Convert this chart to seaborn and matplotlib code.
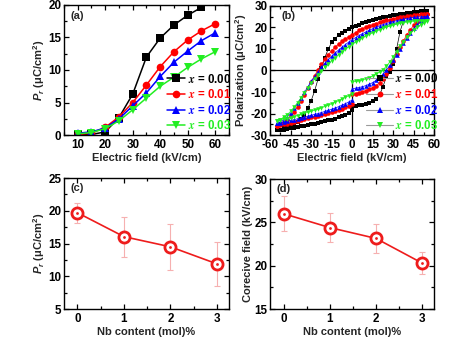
import numpy as np
import pandas as pd
import matplotlib
matplotlib.use("Agg")
import matplotlib.pyplot as plt
import seaborn as sns
from matplotlib.ticker import MultipleLocator

sns.set_theme(style="ticks")
plt.rcParams['font.family'] = ['Liberation Sans', 'DejaVu Sans']
plt.rcParams['font.weight'] = 'bold'
plt.rcParams['axes.labelweight'] = 'bold'
plt.rcParams['axes.unicode_minus'] = False
plt.rcParams['mathtext.fontset'] = 'custom'
plt.rcParams['mathtext.rm'] = 'Liberation Sans:bold'
plt.rcParams['mathtext.it'] = 'Liberation Sans:bold:italic'
plt.rcParams['mathtext.bf'] = 'Liberation Sans:bold'

# ---------------- data ----------------
compositions = ["0.00", "0.01", "0.02", "0.03"]
colors = ["#000000", "#ff0000", "#0000ff", "#22ee22"]
marker_list = ["s", "o", "^", "v"]

# (a) remanent polarization vs applied field
field_a = [10, 15, 20, 25, 30, 35, 40, 45, 50, 55, 60]
pr_000 = [0.1, 0.1, 0.5, 2.7, 6.3, 12.0, 14.9, 16.9, 18.4, 19.6, 20.9]
pr_001 = [0.1, 0.3, 1.2, 2.8, 5.0, 7.7, 10.5, 12.8, 14.6, 16.0, 17.1]
pr_002 = [0.3, 0.5, 1.1, 2.5, 4.5, 6.5, 9.0, 11.2, 12.9, 14.5, 15.7]
pr_003 = [0.2, 0.4, 1.0, 2.2, 3.9, 5.7, 7.5, 8.9, 10.4, 11.7, 12.8]

# (b) P-E loops: initial branch (0 -> 55), descending (55 -> -55), ascending (-55 -> 0)
e_init = [0, 2.5, 5, 7.5, 10, 12.5, 15, 17.5, 20, 22.5, 25, 27.5, 30, 32.5, 35,
          37.5, 40, 42.5, 45, 47.5, 50, 52.5, 55]
e_down = [55, 52.5, 50, 47.5, 45, 42.5, 40, 37.5, 35, 32.5, 30, 27.5, 25, 22.5,
          20, 17.5, 15, 12.5, 10, 7.5, 5, 2.5, 0, -2.5, -5, -7.5, -10, -12.5,
          -15, -17.5, -20, -22.5, -25, -27.5, -30, -32.5, -35, -37.5, -40,
          -42.5, -45, -47.5, -50, -52.5, -55]
e_back = [-55, -52.5, -50, -47.5, -45, -42.5, -40, -37.5, -35, -32.5, -30, -27.5,
          -25, -22.5, -20, -17.5, -15, -12.5, -10, -7.5, -5, -2.5, 0]

p_init_000 = [-16.8, -16.5, -16.2, -15.8, -15.4, -14.9, -14.3, -13.2, -11.5, -7.5,
              -3.0, -0.5, 3.0, 10.0, 18.0, 23.0, 25.2, 26.1, 26.7, 27.1, 27.4,
              27.6, 27.8]
p_down_000 = [27.8, 27.7, 27.5, 27.3, 27.1, 26.9, 26.7, 26.4, 26.2, 25.9, 25.6,
              25.3, 25.0, 24.7, 24.3, 23.9, 23.5, 23.0, 22.5, 21.9, 21.3, 20.7,
              20.0, 19.3, 18.5, 17.5, 16.3, 14.8, 13.0, 10.0, 6.0, 1.0, -4.0,
              -9.5, -14.0, -17.5, -20.5, -22.5, -23.8, -24.8, -25.6, -26.3,
              -26.9, -27.4, -27.8]
p_back_000 = [-27.8, -27.6, -27.4, -27.1, -26.8, -26.5, -26.2, -25.9, -25.6,
              -25.3, -25.0, -24.7, -24.4, -24.0, -23.6, -23.2, -22.8, -22.3,
              -21.8, -21.2, -20.5, -19.6, -18.5]

p_init_001 = [-11.0, -10.7, -10.3, -9.9, -9.4, -8.8, -8.0, -7.0, -5.6, -3.8, -1.5,
              1.2, 4.3, 7.6, 10.8, 13.8, 16.5, 18.9, 20.9, 22.6, 24.0, 25.2, 26.2]
p_down_001 = [26.2, 26.1, 26.0, 25.8, 25.6, 25.4, 25.2, 24.9, 24.6, 24.3, 24.0,
              23.6, 23.2, 22.8, 22.3, 21.8, 21.3, 20.7, 20.1, 19.4, 18.6, 17.6,
              16.5, 15.6, 14.6, 13.5, 12.2, 10.8, 9.2, 7.3, 5.2, 2.8, 0.3, -2.4,
              -5.3, -8.3, -11.3, -14.2, -16.9, -19.3, -21.3, -22.9, -24.1, -25.0,
              -25.6]
p_back_001 = [-25.6, -25.3, -25.0, -24.6, -24.2, -23.8, -23.4, -23.0, -22.6,
              -22.2, -21.8, -21.4, -21.0, -20.6, -20.2, -19.8, -19.3, -18.8,
              -18.3, -17.7, -17.1, -16.4, -15.6]

p_init_002 = [-8.5, -8.2, -7.9, -7.5, -7.0, -6.4, -5.6, -4.6, -3.3, -1.7, 0.2,
              2.4, 4.8, 7.4, 10.1, 12.8, 15.3, 17.6, 19.6, 21.4, 22.9, 24.1, 25.1]
p_down_002 = [25.1, 25.0, 24.9, 24.8, 24.6, 24.4, 24.1, 23.8, 23.5, 23.1, 22.7,
              22.3, 21.8, 21.3, 20.7, 20.1, 19.4, 18.7, 17.9, 17.1, 16.2, 15.3,
              14.3, 13.2, 12.0, 10.8, 9.5, 8.1, 6.6, 5.0, 3.3, 1.4, -0.6, -2.8,
              -5.1, -7.6, -10.2, -12.8, -15.3, -17.6, -19.7, -21.4, -22.8, -23.8,
              -24.5]
p_back_002 = [-24.5, -24.2, -23.9, -23.6, -23.2, -22.8, -22.4, -22.0, -21.6,
              -21.2, -20.8, -20.4, -20.0, -19.5, -19.0, -18.5, -18.0, -17.4,
              -16.8, -16.1, -15.4, -14.6, -13.7]

p_init_003 = [-5.4, -5.1, -4.8, -4.4, -3.9, -3.3, -2.5, -1.6, -0.8, 0.3, 2.0, 4.0,
              6.3, 8.8, 11.2, 13.4, 15.4, 17.2, 18.7, 20.0, 21.2, 22.2, 23.0]
p_down_003 = [23.0, 23.1, 23.1, 23.0, 22.9, 22.7, 22.5, 22.2, 21.9, 21.5, 21.1,
              20.6, 20.1, 19.5, 18.9, 18.2, 17.5, 16.7, 15.9, 15.0, 14.1, 13.1,
              12.1, 11.0, 9.8, 8.6, 7.3, 6.0, 4.6, 3.1, 1.5, -0.2, -2.0, -3.9,
              -5.9, -8.1, -10.4, -12.7, -14.9, -17.0, -18.9, -20.5, -21.8, -22.8,
              -23.5]
p_back_003 = [-23.5, -23.1, -22.7, -22.3, -21.9, -21.4, -20.9, -20.4, -19.9,
              -19.4, -18.9, -18.4, -17.9, -17.3, -16.7, -16.1, -15.4, -14.7,
              -14.0, -13.3, -12.5, -11.7, -10.8]

# (c), (d) vs Nb content
nb_content = [0, 1, 2, 3]
pr_mean = [19.7, 16.05, 14.5, 11.9]
pr_err = [1.55, 3.05, 3.55, 3.35]
ec_mean = [26.0, 24.4, 23.15, 20.3]
ec_err = [2.05, 1.7, 1.65, 1.3]

# ---------------- tables ----------------
legend_labels = [r"$x$ = " + c for c in compositions]
pr_series = [pr_000, pr_001, pr_002, pr_003]
df_a = pd.DataFrame({
    "E": np.tile(field_a, 4),
    "Pr": np.concatenate(pr_series),
    "comp": np.repeat(legend_labels, len(field_a)),
})

loops = [(p_init_000, p_down_000, p_back_000),
         (p_init_001, p_down_001, p_back_001),
         (p_init_002, p_down_002, p_back_002),
         (p_init_003, p_down_003, p_back_003)]
rows = []
for lab, (pi, pd_, pb) in zip(legend_labels, loops):
    e_all = list(e_init) + list(e_down) + list(e_back)
    p_all = list(pi) + list(pd_) + list(pb)
    for e, p in zip(e_all, p_all):
        rows.append((e, p, lab))
df_b = pd.DataFrame(rows, columns=["E", "P", "comp"])

df_c = pd.DataFrame({"Nb": nb_content, "Pr": pr_mean})
df_d = pd.DataFrame({"Nb": nb_content, "Ec": ec_mean})

palette = dict(zip(legend_labels, colors))
mk = dict(zip(legend_labels, marker_list))

# ---------------- figure ----------------
fig = plt.figure(figsize=(4.74, 3.43), dpi=100)
ax_a = fig.add_axes([0.135, 0.606, 0.348, 0.380])
ax_b = fig.add_axes([0.570, 0.606, 0.346, 0.377])
ax_c = fig.add_axes([0.135, 0.099, 0.348, 0.382])
ax_d = fig.add_axes([0.570, 0.099, 0.346, 0.379])

TICK_FS = 8.4
LAB_FS = 8.0
LEG_PROP = {"size": 8.3, "weight": "bold", "family": "Liberation Sans",
            "math_fontfamily": "stix"}


def style_axes(ax):
    ax.tick_params(which="both", direction="in", top=True, right=True,
                   labelsize=TICK_FS, width=0.9, colors="black")
    ax.tick_params(which="major", length=3.5)
    ax.tick_params(which="minor", length=2)
    ax.tick_params(axis="x", which="both", pad=3)
    ax.tick_params(axis="y", which="both", pad=2)
    for sp in ax.spines.values():
        sp.set_linewidth(1.0)
        sp.set_color("black")
    for lab in ax.get_xticklabels() + ax.get_yticklabels():
        lab.set_fontweight("bold")
    ax.xaxis.label.set_size(LAB_FS)
    ax.yaxis.label.set_size(LAB_FS)
    ax.xaxis.labelpad = 1
    ax.yaxis.labelpad = 1


# (a)
sns.lineplot(data=df_a, x="E", y="Pr", hue="comp", style="comp",
             palette=palette, markers=mk, dashes=False, ax=ax_a,
             markersize=5.5, markeredgewidth=0, linewidth=1.1, legend=True)
ax_a.set_xlim(5, 65)
ax_a.set_ylim(0, 20)
ax_a.xaxis.set_major_locator(MultipleLocator(10))
ax_a.xaxis.set_minor_locator(MultipleLocator(5))
ax_a.yaxis.set_major_locator(MultipleLocator(5))
ax_a.yaxis.set_minor_locator(MultipleLocator(2.5))
ax_a.set_xlabel("Electric field (kV/cm)")
ax_a.set_ylabel(r"$P_r$ (μC/cm$^2$)")
ax_a.text(0.04, 0.95, "(a)", transform=ax_a.transAxes, fontsize=8,
          fontweight="bold", va="top", ha="left")
h, l = ax_a.get_legend_handles_labels()
for hh in h:
    hh.set_markersize(5.5)
leg = ax_a.legend(h, l, loc="lower right", bbox_to_anchor=(1.06, -0.03),
                  frameon=False, handlelength=1.6, handletextpad=0.3,
                  labelspacing=0.22, borderaxespad=0.2, prop=LEG_PROP)
for t, c in zip(leg.get_texts(), colors):
    t.set_color(c)
style_axes(ax_a)

# (b)
ax_b.axhline(0, color="black", lw=0.9, zorder=0)
ax_b.axvline(0, color="black", lw=0.9, zorder=0)
sns.lineplot(data=df_b, x="E", y="P", hue="comp", style="comp",
             palette=palette, markers=mk, dashes=False, sort=False,
             estimator=None, ax=ax_b, markersize=3.3, markeredgewidth=0,
             linewidth=0.5, legend=True)
ax_b.set_xlim(-60, 60)
ax_b.set_ylim(-30, 30)
ax_b.xaxis.set_major_locator(MultipleLocator(15))
ax_b.xaxis.set_minor_locator(MultipleLocator(7.5))
ax_b.yaxis.set_major_locator(MultipleLocator(10))
ax_b.yaxis.set_minor_locator(MultipleLocator(5))
ax_b.set_xlabel("Electric field (kV/cm)")
ax_b.set_ylabel("Polarization (μC/cm$^2$)")
ax_b.text(0.07, 0.96, "(b)", transform=ax_b.transAxes, fontsize=8,
          fontweight="bold", va="top", ha="left")
h, l = ax_b.get_legend_handles_labels()
for hh, c in zip(h, colors):
    hh.set_color("#9a9a9a")
    hh.set_markerfacecolor(c)
    hh.set_markeredgecolor(c)
    hh.set_markersize(4.2)
    hh.set_linewidth(0.8)
leg = ax_b.legend(h, l, loc="lower right", bbox_to_anchor=(1.07, -0.03),
                  frameon=False, handlelength=2.3, handletextpad=0.2,
                  labelspacing=0.22, borderaxespad=0.2, prop=LEG_PROP)
for t, c in zip(leg.get_texts(), colors):
    t.set_color(c)
style_axes(ax_b)


def nb_panel(ax, df, ycol, err, ylim, ymaj, ymin, ylabel, tag):
    ax.errorbar(df["Nb"], df[ycol], yerr=err, fmt="none", ecolor="#f6b0b0",
                elinewidth=0.8, capsize=2.5, capthick=0.8, zorder=1)
    sns.lineplot(data=df, x="Nb", y=ycol, ax=ax, color="#ee1c1c",
                 linewidth=1.2, marker="o", markersize=8,
                 markerfacecolor="white", markeredgecolor="#ee1c1c",
                 markeredgewidth=2.0, zorder=3)
    sns.scatterplot(data=df, x="Nb", y=ycol, ax=ax, color="#ee1c1c", s=4,
                    linewidth=0, zorder=4)
    ax.set_xlim(-0.29, 3.26)
    ax.set_ylim(*ylim)
    ax.xaxis.set_major_locator(MultipleLocator(1))
    ax.xaxis.set_minor_locator(MultipleLocator(0.5))
    ax.yaxis.set_major_locator(MultipleLocator(ymaj))
    ax.yaxis.set_minor_locator(MultipleLocator(ymin))
    ax.set_xlabel("Nb content (mol)%")
    ax.set_ylabel(ylabel)
    ax.text(0.04, 0.96, tag, transform=ax.transAxes, fontsize=8,
            fontweight="bold", va="top", ha="left")
    style_axes(ax)


nb_panel(ax_c, df_c, "Pr", pr_err, (5, 25), 5, 2.5,
         r"$P_r$ (μC/cm$^2$)", "(c)")
nb_panel(ax_d, df_d, "Ec", ec_err, (15, 30), 5, 2.5,
         "Corecive field (kV/cm)", "(d)")

fig.savefig("out.png", dpi=100)
